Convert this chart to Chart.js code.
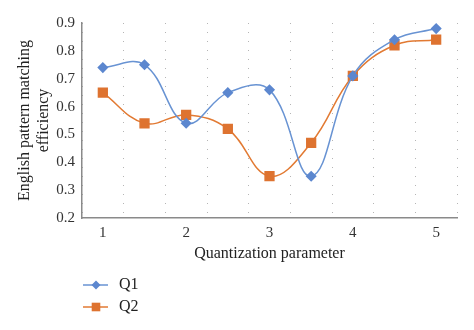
<!DOCTYPE html>
<html>
<head>
<meta charset="utf-8">
<script src="https://cdn.jsdelivr.net/npm/chart.js@4/dist/chart.umd.min.js"></script>
<style>
  html, body { margin: 0; padding: 0; background: #ffffff; }
  #wrap { width: 474px; height: 330px; position: relative; }
</style>
</head>
<body>
<div id="wrap"><canvas id="c" width="474" height="330"></canvas></div>
<script>
const categories = ['1', '1.5', '2', '2.5', '3', '3.5', '4', '4.5', '5'];
const tickLabels = ['1', '', '2', '', '3', '', '4', '', '5'];
const q1Values = [0.74, 0.75, 0.54, 0.65, 0.66, 0.35, 0.71, 0.84, 0.88];
const q2Values = [0.65, 0.54, 0.57, 0.52, 0.35, 0.47, 0.71, 0.82, 0.84];
const seriesNames = ['Q1', 'Q2'];
const yTitle = ['English pattern matching', 'efficiency'];
const xTitle = 'Quantization parameter';

const BLUE = '#6893d3';
const ORANGE = '#e27a33';
const SERIF = "'Liberation Serif', 'DejaVu Serif', serif";

const legendPlugin = {
  id: 'customLegend',
  afterDraw(chart) {
    const ctx = chart.ctx;
    const items = chart.data.datasets;
    ctx.save();
    items.forEach((ds, i) => {
      const y = 285 + i * 22;
      const x0 = 83, x1 = 108, mx = 96;
      ctx.strokeStyle = ds.borderColor;
      ctx.lineWidth = 1.5;
      ctx.beginPath();
      ctx.moveTo(x0, y);
      ctx.lineTo(x1, y);
      ctx.stroke();
      ctx.fillStyle = ds.pointBackgroundColor;
      ctx.beginPath();
      if (ds.pointStyle === 'rectRot') {
        const r = 4.5;
        ctx.moveTo(mx, y - r); ctx.lineTo(mx + r, y); ctx.lineTo(mx, y + r); ctx.lineTo(mx - r, y);
        ctx.closePath();
      } else {
        const s = 4.3;
        ctx.rect(mx - s, y - s, 2 * s, 2 * s);
      }
      ctx.fill();
      ctx.fillStyle = '#222';
      ctx.font = '16px ' + SERIF;
      ctx.textBaseline = 'middle';
      ctx.textAlign = 'left';
      ctx.fillText(ds.label, 119, y);
    });
    ctx.restore();
  }
};

new Chart(document.getElementById('c'), {
  type: 'line',
  data: {
    labels: categories,
    datasets: [
      {
        label: seriesNames[0],
        data: q1Values,
        borderColor: BLUE,
        backgroundColor: BLUE,
        pointBackgroundColor: '#5c87cf',
        pointBorderColor: '#5c87cf',
        pointStyle: 'rectRot',
        pointRadius: 4.5,
        borderWidth: 1.5,
        tension: 0.4,
        fill: false
      },
      {
        label: seriesNames[1],
        data: q2Values,
        borderColor: ORANGE,
        backgroundColor: ORANGE,
        pointBackgroundColor: '#de7330',
        pointBorderColor: '#de7330',
        pointStyle: 'rect',
        pointRadius: 6.2,
        borderWidth: 1.5,
        tension: 0.4,
        fill: false
      }
    ]
  },
  options: {
    responsive: false,
    animation: false,
    devicePixelRatio: 1,
    layout: { padding: { left: 0, right: 17, top: 23, bottom: 62 } },
    plugins: {
      legend: { display: false },
      tooltip: { enabled: false }
    },
    scales: {
      x: {
        type: 'category',
        offset: true,
        grid: {
          display: true,
          offset: true,
          drawTicks: false,
          color: '#b5b5b5',
          lineWidth: 1
        },
        border: { display: true, color: '#8a8a8a', width: 1.5, dash: [1, 8] },
        ticks: {
          autoSkip: false,
          maxRotation: 0,
          padding: 6,
          color: '#333',
          font: { family: SERIF, size: 15 },
          callback: (v, i) => tickLabels[i]
        },
        title: {
          display: true,
          text: xTitle,
          color: '#222',
          font: { family: SERIF, size: 16 },
          padding: { top: 0, bottom: 5 }
        },
        afterFit: s => { s.height = 50; }
      },
      y: {
        min: 0.2,
        max: 0.9,
        grid: { display: false, drawTicks: false },
        border: { display: true, color: '#8a8a8a', width: 1.5 },
        ticks: {
          stepSize: 0.1,
          padding: 7,
          color: '#333',
          font: { family: SERIF, size: 15 },
          callback: v => v.toFixed(1)
        },
        title: {
          display: true,
          text: yTitle,
          color: '#222',
          font: { family: SERIF, size: 16 },
          padding: { top: 15, bottom: 0 }
        },
        afterFit: s => { s.width = 82; }
      }
    }
  },
  plugins: [legendPlugin]
});
</script>
</body>
</html>
